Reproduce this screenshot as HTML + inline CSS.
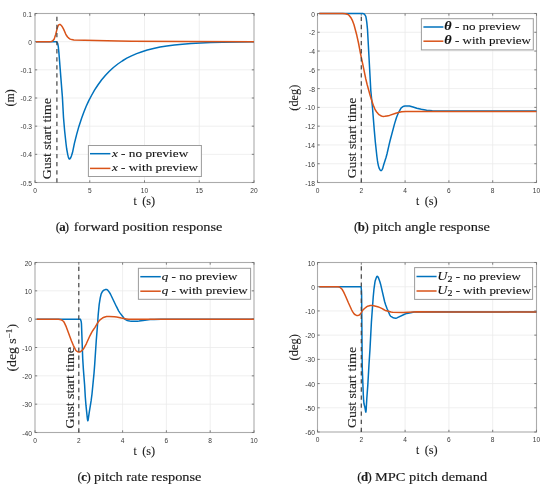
<!DOCTYPE html>
<html><head><meta charset="utf-8"><title>Gust response</title>
<style>html,body{margin:0;padding:0;background:#fff;}svg{display:block;}</style></head>
<body><svg width="550" height="489" viewBox="0 0 550 489">
<rect width="550" height="489" fill="#fff"/>
<path d="M89.75 13.5V182.5M144.5 13.5V182.5M199.25 13.5V182.5M35 41.67H254M35 69.83H254M35 98H254M35 126.17H254M35 154.33H254" stroke="#ebebeb" stroke-width="0.8" fill="none"/>
<rect x="35" y="13.5" width="219" height="169" fill="none" stroke="#ababab" stroke-width="1.1"/>
<path d="M35 182.5v-2.2M35 13.5v2.2M89.75 182.5v-2.2M89.75 13.5v2.2M144.5 182.5v-2.2M144.5 13.5v2.2M199.25 182.5v-2.2M199.25 13.5v2.2M254 182.5v-2.2M254 13.5v2.2M35 13.5h2.2M254 13.5h-2.2M35 41.67h2.2M254 41.67h-2.2M35 69.83h2.2M254 69.83h-2.2M35 98h2.2M254 98h-2.2M35 126.17h2.2M254 126.17h-2.2M35 154.33h2.2M254 154.33h-2.2M35 182.5h2.2M254 182.5h-2.2" stroke="#707070" stroke-width="0.9" fill="none"/>
<path d="M35.9,41.7 56.0,41.7 56.5,42.0 57.1,42.5 57.6,43.2 57.8,44.0 58.3,46.7 58.9,52.6 61.9,90.9 62.4,97.1 63.5,117.5 64.7,131.5 66.0,143.5 66.7,149.0 67.7,154.4 68.3,156.9 68.9,158.6 69.3,159.1 69.6,159.1 69.9,158.8 70.7,157.7 71.4,155.9 72.5,152.6 74.4,143.4 76.6,134.6 78.9,126.4 81.6,118.3 83.9,112.0 86.2,106.3 88.8,100.6 91.5,95.5 94.5,90.2 97.9,85.0 101.5,80.0 105.3,75.5 109.1,71.5 113.4,67.5 117.8,64.0 122.2,61.0 126.8,58.2 131.5,55.9 136.6,53.6 142.0,51.7 147.3,50.0 153.5,48.5 160.1,47.1 166.8,46.0 174.4,45.0 182.4,44.2 191.0,43.5 200.6,43.0 210.8,42.5 222.6,42.2 254.0,41.7" stroke="#0072bd" stroke-width="1.5" fill="none" stroke-linejoin="round"/>
<path d="M35.9,41.7 49.7,41.7 51.4,41.5 52.5,41.0 53.6,39.9 54.1,39.2 54.5,38.1 55.7,34.5 57.3,27.9 58.0,26.1 58.4,25.3 58.7,24.9 59.3,24.6 59.9,24.5 60.3,24.6 60.8,25.0 61.6,25.8 62.2,26.7 63.7,29.4 65.6,33.8 66.7,35.8 67.6,37.0 69.1,38.4 70.2,39.1 71.8,39.6 73.9,39.9 118.1,41.1 131.6,41.3 186.2,41.6 254.0,41.7" stroke="#d95319" stroke-width="1.5" fill="none" stroke-linejoin="round"/>
<path d="M56.9 182.5V13.5" stroke="#444" stroke-width="1.2" stroke-dasharray="4.3 3.77" fill="none"/>
<text x="35" y="192.8" font-family='"Liberation Sans", Arial, sans-serif' font-size="7" fill="#383838" text-anchor="middle" textLength="3.67" lengthAdjust="spacingAndGlyphs">0</text>
<text x="89.75" y="192.8" font-family='"Liberation Sans", Arial, sans-serif' font-size="7" fill="#383838" text-anchor="middle" textLength="3.67" lengthAdjust="spacingAndGlyphs">5</text>
<text x="144.5" y="192.8" font-family='"Liberation Sans", Arial, sans-serif' font-size="7" fill="#383838" text-anchor="middle" textLength="7.34" lengthAdjust="spacingAndGlyphs">10</text>
<text x="199.25" y="192.8" font-family='"Liberation Sans", Arial, sans-serif' font-size="7" fill="#383838" text-anchor="middle" textLength="7.34" lengthAdjust="spacingAndGlyphs">15</text>
<text x="254" y="192.8" font-family='"Liberation Sans", Arial, sans-serif' font-size="7" fill="#383838" text-anchor="middle" textLength="7.34" lengthAdjust="spacingAndGlyphs">20</text>
<text x="32" y="16.6" font-family='"Liberation Sans", Arial, sans-serif' font-size="7" fill="#383838" text-anchor="end" textLength="9.17" lengthAdjust="spacingAndGlyphs">0.1</text>
<text x="32" y="44.77" font-family='"Liberation Sans", Arial, sans-serif' font-size="7" fill="#383838" text-anchor="end" textLength="3.67" lengthAdjust="spacingAndGlyphs">0</text>
<text x="32" y="72.93" font-family='"Liberation Sans", Arial, sans-serif' font-size="7" fill="#383838" text-anchor="end" textLength="11.55" lengthAdjust="spacingAndGlyphs">-0.1</text>
<text x="32" y="101.1" font-family='"Liberation Sans", Arial, sans-serif' font-size="7" fill="#383838" text-anchor="end" textLength="11.55" lengthAdjust="spacingAndGlyphs">-0.2</text>
<text x="32" y="129.27" font-family='"Liberation Sans", Arial, sans-serif' font-size="7" fill="#383838" text-anchor="end" textLength="11.55" lengthAdjust="spacingAndGlyphs">-0.3</text>
<text x="32" y="157.43" font-family='"Liberation Sans", Arial, sans-serif' font-size="7" fill="#383838" text-anchor="end" textLength="11.55" lengthAdjust="spacingAndGlyphs">-0.4</text>
<text x="32" y="185.6" font-family='"Liberation Sans", Arial, sans-serif' font-size="7" fill="#383838" text-anchor="end" textLength="11.55" lengthAdjust="spacingAndGlyphs">-0.5</text>
<text x="133.5" y="204.9" font-family='"Liberation Serif", "DejaVu Serif", serif' font-size="11.5" fill="#222" stroke="#222" stroke-width="0.1">t <tspan x="142.2" textLength="13.0" lengthAdjust="spacingAndGlyphs">(s)</tspan></text>
<text transform="translate(13.8,97.9) rotate(-90)" font-family='"Liberation Serif", "DejaVu Serif", serif' font-size="12" fill="#222" stroke="#222" stroke-width="0.1" text-anchor="middle" textLength="17.2" lengthAdjust="spacingAndGlyphs">(m)</text>
<text transform="translate(50.8,179.3) rotate(-90)" font-family='"Liberation Serif", "DejaVu Serif", serif' font-size="13.4" fill="#222" stroke="#222" stroke-width="0.1" textLength="81.3" lengthAdjust="spacingAndGlyphs">Gust start time</text>
<rect x="88.4" y="145.5" width="113" height="31" fill="#fff" stroke="#9c9c9c" stroke-width="1.0"/>
<path d="M90 153.7H110.4" stroke="#0072bd" stroke-width="1.5"/>
<text x="111.9" y="156.7" font-family='"Liberation Serif", "DejaVu Serif", serif' font-size="11" fill="#111" stroke="#111" stroke-width="0.1" textLength="76.4" lengthAdjust="spacingAndGlyphs"><tspan font-style="italic">x</tspan> - no preview</text>
<path d="M90 168.4H110.4" stroke="#d95319" stroke-width="1.5"/>
<text x="111.9" y="171.4" font-family='"Liberation Serif", "DejaVu Serif", serif' font-size="11" fill="#111" stroke="#111" stroke-width="0.1" textLength="86.3" lengthAdjust="spacingAndGlyphs"><tspan font-style="italic">x</tspan> - with preview</text>
<text x="55.8" y="231" font-family='"Liberation Serif", "DejaVu Serif", serif' font-size="12.8" fill="#1a1a1a" stroke="#1a1a1a" stroke-width="0.15" textLength="13.2" lengthAdjust="spacing">(<tspan font-weight="bold">a</tspan>)</text>
<text x="73.7" y="231" font-family='"Liberation Serif", "DejaVu Serif", serif' font-size="12.8" fill="#1a1a1a" stroke="#1a1a1a" stroke-width="0.15" textLength="148.7" lengthAdjust="spacingAndGlyphs">forward position response</text>
<path d="M361.3 13.5V182.5M405.1 13.5V182.5M448.9 13.5V182.5M492.7 13.5V182.5M317.5 32.28H536.5M317.5 51.06H536.5M317.5 69.83H536.5M317.5 88.61H536.5M317.5 107.39H536.5M317.5 126.17H536.5M317.5 144.94H536.5M317.5 163.72H536.5" stroke="#ebebeb" stroke-width="0.8" fill="none"/>
<rect x="317.5" y="13.5" width="219" height="169" fill="none" stroke="#ababab" stroke-width="1.1"/>
<path d="M317.5 182.5v-2.2M317.5 13.5v2.2M361.3 182.5v-2.2M361.3 13.5v2.2M405.1 182.5v-2.2M405.1 13.5v2.2M448.9 182.5v-2.2M448.9 13.5v2.2M492.7 182.5v-2.2M492.7 13.5v2.2M536.5 182.5v-2.2M536.5 13.5v2.2M317.5 13.5h2.2M536.5 13.5h-2.2M317.5 32.28h2.2M536.5 32.28h-2.2M317.5 51.06h2.2M536.5 51.06h-2.2M317.5 69.83h2.2M536.5 69.83h-2.2M317.5 88.61h2.2M536.5 88.61h-2.2M317.5 107.39h2.2M536.5 107.39h-2.2M317.5 126.17h2.2M536.5 126.17h-2.2M317.5 144.94h2.2M536.5 144.94h-2.2M317.5 163.72h2.2M536.5 163.72h-2.2M317.5 182.5h2.2M536.5 182.5h-2.2" stroke="#707070" stroke-width="0.9" fill="none"/>
<path d="M319.3,13.5 362.7,13.5 363.6,13.7 364.3,14.2 365.0,15.0 365.8,16.4 366.2,18.4 366.8,22.4 367.5,29.5 370.0,75.8 370.8,90.6 372.4,106.7 374.3,130.4 375.3,141.7 376.9,156.5 377.5,160.9 377.9,163.3 378.5,166.1 379.1,168.1 380.1,170.0 380.6,170.5 380.8,170.6 381.3,170.6 381.7,170.2 382.3,169.3 382.7,168.4 383.7,164.7 386.1,157.3 387.1,153.5 389.0,145.2 390.1,140.5 394.6,123.6 396.5,117.5 398.4,112.8 400.6,108.8 401.1,108.0 401.6,107.6 402.9,106.7 403.9,106.2 404.9,106.0 408.4,106.0 409.5,106.1 413.0,107.0 416.8,108.3 421.3,109.3 426.6,110.3 432.3,110.7 451.7,110.9 536.5,110.9" stroke="#0072bd" stroke-width="1.5" fill="none" stroke-linejoin="round"/>
<path d="M319.3,13.5 342.7,13.5 345.3,13.7 347.2,14.2 348.2,14.6 348.7,14.9 349.8,16.2 351.3,18.3 352.6,20.9 354.0,24.8 356.8,35.3 358.5,43.0 360.6,54.1 362.6,63.3 365.8,79.0 367.2,84.7 370.1,95.2 371.4,99.6 373.3,105.2 374.8,108.8 375.8,110.8 377.1,112.6 378.4,114.1 379.4,114.9 381.4,116.0 382.3,116.3 383.2,116.4 384.8,116.3 386.9,115.9 389.5,115.4 395.8,113.2 399.4,112.2 401.6,111.8 405.8,111.5 411.6,111.4 536.5,111.4" stroke="#d95319" stroke-width="1.5" fill="none" stroke-linejoin="round"/>
<path d="M361.3 182.5V13.5" stroke="#444" stroke-width="1.2" stroke-dasharray="4.3 3.77" fill="none"/>
<text x="317.5" y="192.8" font-family='"Liberation Sans", Arial, sans-serif' font-size="7" fill="#383838" text-anchor="middle" textLength="3.67" lengthAdjust="spacingAndGlyphs">0</text>
<text x="361.3" y="192.8" font-family='"Liberation Sans", Arial, sans-serif' font-size="7" fill="#383838" text-anchor="middle" textLength="3.67" lengthAdjust="spacingAndGlyphs">2</text>
<text x="405.1" y="192.8" font-family='"Liberation Sans", Arial, sans-serif' font-size="7" fill="#383838" text-anchor="middle" textLength="3.67" lengthAdjust="spacingAndGlyphs">4</text>
<text x="448.9" y="192.8" font-family='"Liberation Sans", Arial, sans-serif' font-size="7" fill="#383838" text-anchor="middle" textLength="3.67" lengthAdjust="spacingAndGlyphs">6</text>
<text x="492.7" y="192.8" font-family='"Liberation Sans", Arial, sans-serif' font-size="7" fill="#383838" text-anchor="middle" textLength="3.67" lengthAdjust="spacingAndGlyphs">8</text>
<text x="536.5" y="192.8" font-family='"Liberation Sans", Arial, sans-serif' font-size="7" fill="#383838" text-anchor="middle" textLength="7.34" lengthAdjust="spacingAndGlyphs">10</text>
<text x="315" y="16.6" font-family='"Liberation Sans", Arial, sans-serif' font-size="7" fill="#383838" text-anchor="end" textLength="3.67" lengthAdjust="spacingAndGlyphs">0</text>
<text x="315" y="35.38" font-family='"Liberation Sans", Arial, sans-serif' font-size="7" fill="#383838" text-anchor="end" textLength="6.05" lengthAdjust="spacingAndGlyphs">-2</text>
<text x="315" y="54.16" font-family='"Liberation Sans", Arial, sans-serif' font-size="7" fill="#383838" text-anchor="end" textLength="6.05" lengthAdjust="spacingAndGlyphs">-4</text>
<text x="315" y="72.93" font-family='"Liberation Sans", Arial, sans-serif' font-size="7" fill="#383838" text-anchor="end" textLength="6.05" lengthAdjust="spacingAndGlyphs">-6</text>
<text x="315" y="91.71" font-family='"Liberation Sans", Arial, sans-serif' font-size="7" fill="#383838" text-anchor="end" textLength="6.05" lengthAdjust="spacingAndGlyphs">-8</text>
<text x="315" y="110.49" font-family='"Liberation Sans", Arial, sans-serif' font-size="7" fill="#383838" text-anchor="end" textLength="9.72" lengthAdjust="spacingAndGlyphs">-10</text>
<text x="315" y="129.27" font-family='"Liberation Sans", Arial, sans-serif' font-size="7" fill="#383838" text-anchor="end" textLength="9.72" lengthAdjust="spacingAndGlyphs">-12</text>
<text x="315" y="148.04" font-family='"Liberation Sans", Arial, sans-serif' font-size="7" fill="#383838" text-anchor="end" textLength="9.72" lengthAdjust="spacingAndGlyphs">-14</text>
<text x="315" y="166.82" font-family='"Liberation Sans", Arial, sans-serif' font-size="7" fill="#383838" text-anchor="end" textLength="9.72" lengthAdjust="spacingAndGlyphs">-16</text>
<text x="315" y="185.6" font-family='"Liberation Sans", Arial, sans-serif' font-size="7" fill="#383838" text-anchor="end" textLength="9.72" lengthAdjust="spacingAndGlyphs">-18</text>
<text x="416" y="204.9" font-family='"Liberation Serif", "DejaVu Serif", serif' font-size="11.5" fill="#222" stroke="#222" stroke-width="0.1">t <tspan x="424.7" textLength="13.0" lengthAdjust="spacingAndGlyphs">(s)</tspan></text>
<text transform="translate(298.4,97.7) rotate(-90)" font-family='"Liberation Serif", "DejaVu Serif", serif' font-size="12" fill="#222" stroke="#222" stroke-width="0.1" text-anchor="middle" textLength="26.0" lengthAdjust="spacingAndGlyphs">(deg)</text>
<text transform="translate(356.3,178.3) rotate(-90)" font-family='"Liberation Serif", "DejaVu Serif", serif' font-size="13.4" fill="#222" stroke="#222" stroke-width="0.1" textLength="80.6" lengthAdjust="spacingAndGlyphs">Gust start time</text>
<rect x="421.4" y="18.7" width="111.9" height="31.2" fill="#fff" stroke="#9c9c9c" stroke-width="1.0"/>
<path d="M423.4 27H443.4" stroke="#0072bd" stroke-width="1.5"/>
<text x="444.3" y="30" font-family='"Liberation Serif", "DejaVu Serif", serif' font-size="11" fill="#111" stroke="#111" stroke-width="0.1" textLength="76.3" lengthAdjust="spacingAndGlyphs"><tspan font-style="italic" font-weight="bold" font-size="12">θ</tspan> - no preview</text>
<path d="M423.4 41.2H443.4" stroke="#d95319" stroke-width="1.5"/>
<text x="444.3" y="44.2" font-family='"Liberation Serif", "DejaVu Serif", serif' font-size="11" fill="#111" stroke="#111" stroke-width="0.1" textLength="86.7" lengthAdjust="spacingAndGlyphs"><tspan font-style="italic" font-weight="bold" font-size="12">θ</tspan> - with preview</text>
<text x="354" y="231" font-family='"Liberation Serif", "DejaVu Serif", serif' font-size="12.8" fill="#1a1a1a" stroke="#1a1a1a" stroke-width="0.15" textLength="14.8" lengthAdjust="spacing">(<tspan font-weight="bold">b</tspan>)</text>
<text x="372.6" y="231" font-family='"Liberation Serif", "DejaVu Serif", serif' font-size="12.8" fill="#1a1a1a" stroke="#1a1a1a" stroke-width="0.15" textLength="117.3" lengthAdjust="spacingAndGlyphs">pitch angle response</text>
<path d="M78.8 262.5V432.5M122.6 262.5V432.5M166.4 262.5V432.5M210.2 262.5V432.5M35 290.83H254M35 319.17H254M35 347.5H254M35 375.83H254M35 404.17H254" stroke="#ebebeb" stroke-width="0.8" fill="none"/>
<rect x="35" y="262.5" width="219" height="170" fill="none" stroke="#ababab" stroke-width="1.1"/>
<path d="M35 432.5v-2.2M35 262.5v2.2M78.8 432.5v-2.2M78.8 262.5v2.2M122.6 432.5v-2.2M122.6 262.5v2.2M166.4 432.5v-2.2M166.4 262.5v2.2M210.2 432.5v-2.2M210.2 262.5v2.2M254 432.5v-2.2M254 262.5v2.2M35 262.5h2.2M254 262.5h-2.2M35 290.83h2.2M254 290.83h-2.2M35 319.17h2.2M254 319.17h-2.2M35 347.5h2.2M254 347.5h-2.2M35 375.83h2.2M254 375.83h-2.2M35 404.17h2.2M254 404.17h-2.2M35 432.5h2.2M254 432.5h-2.2" stroke="#707070" stroke-width="0.9" fill="none"/>
<path d="M36.8,319.2 80.2,319.2 80.4,319.2 80.5,319.4 81.1,321.2 81.4,323.1 81.5,324.9 82.7,358.2 83.4,369.6 84.6,384.9 85.3,397.0 86.0,405.7 87.2,417.2 87.5,419.6 87.8,420.7 87.9,420.6 88.1,420.2 88.3,418.8 89.2,412.7 91.1,400.9 92.0,394.0 93.1,382.6 94.0,373.4 94.7,364.4 96.3,340.0 97.3,327.8 98.2,314.6 99.2,304.4 100.2,298.2 100.8,295.5 101.2,293.9 101.7,292.9 102.4,291.6 103.1,290.8 103.7,290.3 105.3,289.6 106.5,289.4 107.2,289.7 107.9,290.4 109.7,292.8 110.4,294.0 116.5,306.7 118.6,310.8 120.1,313.1 122.7,316.5 124.0,318.3 124.6,318.9 125.6,319.6 126.6,320.2 128.3,320.8 129.8,321.1 131.2,321.3 137.3,321.2 139.1,321.0 143.1,320.4 150.1,319.6 154.1,319.4 160.8,319.2 254.0,319.2" stroke="#0072bd" stroke-width="1.5" fill="none" stroke-linejoin="round"/>
<path d="M36.8,319.2 58.5,319.2 59.8,319.4 60.8,319.7 61.8,320.2 63.0,321.0 63.6,321.5 64.3,322.6 66.3,326.9 71.4,340.8 73.3,345.3 75.2,349.2 75.7,350.2 76.3,350.8 77.9,351.8 78.6,352.0 79.2,352.1 79.7,352.0 80.2,351.8 81.5,350.9 82.7,349.8 83.9,348.2 86.3,343.8 89.9,335.8 91.7,332.3 92.7,330.7 95.0,327.4 97.5,323.1 98.6,321.5 100.4,319.6 102.5,318.0 104.1,317.2 106.6,316.5 107.8,316.4 109.2,316.4 114.4,316.7 116.6,317.1 121.4,318.1 126.5,318.9 128.6,319.2 133.1,319.3 144.4,319.2 254.0,319.2" stroke="#d95319" stroke-width="1.5" fill="none" stroke-linejoin="round"/>
<path d="M78.8 432.5V262.5" stroke="#444" stroke-width="1.2" stroke-dasharray="4.3 3.77" fill="none"/>
<text x="35" y="442.8" font-family='"Liberation Sans", Arial, sans-serif' font-size="7" fill="#383838" text-anchor="middle" textLength="3.67" lengthAdjust="spacingAndGlyphs">0</text>
<text x="78.8" y="442.8" font-family='"Liberation Sans", Arial, sans-serif' font-size="7" fill="#383838" text-anchor="middle" textLength="3.67" lengthAdjust="spacingAndGlyphs">2</text>
<text x="122.6" y="442.8" font-family='"Liberation Sans", Arial, sans-serif' font-size="7" fill="#383838" text-anchor="middle" textLength="3.67" lengthAdjust="spacingAndGlyphs">4</text>
<text x="166.4" y="442.8" font-family='"Liberation Sans", Arial, sans-serif' font-size="7" fill="#383838" text-anchor="middle" textLength="3.67" lengthAdjust="spacingAndGlyphs">6</text>
<text x="210.2" y="442.8" font-family='"Liberation Sans", Arial, sans-serif' font-size="7" fill="#383838" text-anchor="middle" textLength="3.67" lengthAdjust="spacingAndGlyphs">8</text>
<text x="254" y="442.8" font-family='"Liberation Sans", Arial, sans-serif' font-size="7" fill="#383838" text-anchor="middle" textLength="7.34" lengthAdjust="spacingAndGlyphs">10</text>
<text x="32" y="265.6" font-family='"Liberation Sans", Arial, sans-serif' font-size="7" fill="#383838" text-anchor="end" textLength="7.34" lengthAdjust="spacingAndGlyphs">20</text>
<text x="32" y="293.93" font-family='"Liberation Sans", Arial, sans-serif' font-size="7" fill="#383838" text-anchor="end" textLength="7.34" lengthAdjust="spacingAndGlyphs">10</text>
<text x="32" y="322.27" font-family='"Liberation Sans", Arial, sans-serif' font-size="7" fill="#383838" text-anchor="end" textLength="3.67" lengthAdjust="spacingAndGlyphs">0</text>
<text x="32" y="350.6" font-family='"Liberation Sans", Arial, sans-serif' font-size="7" fill="#383838" text-anchor="end" textLength="9.72" lengthAdjust="spacingAndGlyphs">-10</text>
<text x="32" y="378.93" font-family='"Liberation Sans", Arial, sans-serif' font-size="7" fill="#383838" text-anchor="end" textLength="9.72" lengthAdjust="spacingAndGlyphs">-20</text>
<text x="32" y="407.27" font-family='"Liberation Sans", Arial, sans-serif' font-size="7" fill="#383838" text-anchor="end" textLength="9.72" lengthAdjust="spacingAndGlyphs">-30</text>
<text x="32" y="435.6" font-family='"Liberation Sans", Arial, sans-serif' font-size="7" fill="#383838" text-anchor="end" textLength="9.72" lengthAdjust="spacingAndGlyphs">-40</text>
<text x="133.5" y="454.9" font-family='"Liberation Serif", "DejaVu Serif", serif' font-size="11.5" fill="#222" stroke="#222" stroke-width="0.1">t <tspan x="142.2" textLength="13.0" lengthAdjust="spacingAndGlyphs">(s)</tspan></text>
<text transform="translate(16.2,347.7) rotate(-90)" font-family='"Liberation Serif", "DejaVu Serif", serif' font-size="11.8" fill="#222" stroke="#222" stroke-width="0.1" text-anchor="middle" textLength="47.6" lengthAdjust="spacingAndGlyphs">(deg s<tspan font-size="8" dy="-3.8">−1</tspan><tspan dy="3.8">)</tspan></text>
<text transform="translate(73.9,428.5) rotate(-90)" font-family='"Liberation Serif", "DejaVu Serif", serif' font-size="13.4" fill="#222" stroke="#222" stroke-width="0.1" textLength="81.4" lengthAdjust="spacingAndGlyphs">Gust start time</text>
<rect x="138.4" y="268.3" width="112.2" height="31" fill="#fff" stroke="#9c9c9c" stroke-width="1.0"/>
<path d="M140.3 276.7H160.8" stroke="#0072bd" stroke-width="1.5"/>
<text x="161.8" y="279.7" font-family='"Liberation Serif", "DejaVu Serif", serif' font-size="11" fill="#111" stroke="#111" stroke-width="0.1" textLength="75.6" lengthAdjust="spacingAndGlyphs"><tspan font-style="italic">q</tspan> - no preview</text>
<path d="M140.3 291.2H160.8" stroke="#d95319" stroke-width="1.5"/>
<text x="161.8" y="294.2" font-family='"Liberation Serif", "DejaVu Serif", serif' font-size="11" fill="#111" stroke="#111" stroke-width="0.1" textLength="85.9" lengthAdjust="spacingAndGlyphs"><tspan font-style="italic">q</tspan> - with preview</text>
<text x="77.6" y="480.6" font-family='"Liberation Serif", "DejaVu Serif", serif' font-size="12.8" fill="#1a1a1a" stroke="#1a1a1a" stroke-width="0.15" textLength="13.2" lengthAdjust="spacing">(<tspan font-weight="bold">c</tspan>)</text>
<text x="94.1" y="480.6" font-family='"Liberation Serif", "DejaVu Serif", serif' font-size="12.8" fill="#1a1a1a" stroke="#1a1a1a" stroke-width="0.15" textLength="107.3" lengthAdjust="spacingAndGlyphs">pitch rate response</text>
<path d="M361.3 262.5V432M405.1 262.5V432M448.9 262.5V432M492.7 262.5V432M317.5 286.71H536.5M317.5 310.93H536.5M317.5 335.14H536.5M317.5 359.36H536.5M317.5 383.57H536.5M317.5 407.79H536.5" stroke="#ebebeb" stroke-width="0.8" fill="none"/>
<rect x="317.5" y="262.5" width="219" height="169.5" fill="none" stroke="#ababab" stroke-width="1.1"/>
<path d="M317.5 432v-2.2M317.5 262.5v2.2M361.3 432v-2.2M361.3 262.5v2.2M405.1 432v-2.2M405.1 262.5v2.2M448.9 432v-2.2M448.9 262.5v2.2M492.7 432v-2.2M492.7 262.5v2.2M536.5 432v-2.2M536.5 262.5v2.2M317.5 262.5h2.2M536.5 262.5h-2.2M317.5 286.71h2.2M536.5 286.71h-2.2M317.5 310.93h2.2M536.5 310.93h-2.2M317.5 335.14h2.2M536.5 335.14h-2.2M317.5 359.36h2.2M536.5 359.36h-2.2M317.5 383.57h2.2M536.5 383.57h-2.2M317.5 407.79h2.2M536.5 407.79h-2.2M317.5 432h2.2M536.5 432h-2.2" stroke="#707070" stroke-width="0.9" fill="none"/>
<path d="M319.3,286.7 361.0,286.7 361.1,286.8 361.4,289.8 361.6,294.1 362.2,363.3 362.3,369.4 363.3,394.8 363.6,400.2 364.0,403.8 365.0,407.8 365.6,411.5 365.8,412.0 365.9,412.2 366.2,409.3 366.8,398.5 367.8,385.1 369.0,364.2 370.0,348.9 371.4,322.2 373.2,297.3 374.0,288.8 374.9,282.4 375.3,280.4 376.1,278.2 376.6,276.9 377.1,276.4 377.2,276.3 377.5,276.4 378.1,277.1 378.7,278.4 379.8,281.5 380.6,284.2 384.6,301.5 385.6,304.8 386.9,308.2 389.5,314.3 390.4,315.9 390.8,316.4 392.2,317.2 393.3,317.8 394.3,318.1 395.6,318.2 396.9,317.9 404.6,314.2 406.8,313.4 411.9,312.4 414.0,312.1 415.9,312.0 425.2,311.8 536.5,311.9" stroke="#0072bd" stroke-width="1.5" fill="none" stroke-linejoin="round"/>
<path d="M319.3,286.7 338.2,286.7 339.3,287.0 340.7,288.0 341.4,288.6 342.2,289.5 343.0,290.8 343.7,292.1 345.6,296.2 348.4,302.8 351.7,310.0 352.6,311.6 353.9,313.6 354.8,314.5 356.1,315.2 357.2,315.6 357.8,315.6 358.5,315.4 359.3,315.0 360.3,314.2 360.8,313.5 362.2,311.0 362.7,310.3 364.5,308.5 366.9,306.6 367.7,306.2 368.7,305.9 370.1,305.6 371.4,305.5 372.6,305.6 373.7,305.7 377.7,306.7 379.5,307.4 382.2,308.6 384.5,310.0 385.3,310.4 388.4,311.2 391.1,312.0 392.6,312.3 403.2,312.4 413.0,311.9 416.4,311.8 447.4,311.9 536.5,311.9" stroke="#d95319" stroke-width="1.5" fill="none" stroke-linejoin="round"/>
<path d="M361.3 432V262.5" stroke="#444" stroke-width="1.2" stroke-dasharray="4.3 3.77" fill="none"/>
<text x="317.5" y="442.3" font-family='"Liberation Sans", Arial, sans-serif' font-size="7" fill="#383838" text-anchor="middle" textLength="3.67" lengthAdjust="spacingAndGlyphs">0</text>
<text x="361.3" y="442.3" font-family='"Liberation Sans", Arial, sans-serif' font-size="7" fill="#383838" text-anchor="middle" textLength="3.67" lengthAdjust="spacingAndGlyphs">2</text>
<text x="405.1" y="442.3" font-family='"Liberation Sans", Arial, sans-serif' font-size="7" fill="#383838" text-anchor="middle" textLength="3.67" lengthAdjust="spacingAndGlyphs">4</text>
<text x="448.9" y="442.3" font-family='"Liberation Sans", Arial, sans-serif' font-size="7" fill="#383838" text-anchor="middle" textLength="3.67" lengthAdjust="spacingAndGlyphs">6</text>
<text x="492.7" y="442.3" font-family='"Liberation Sans", Arial, sans-serif' font-size="7" fill="#383838" text-anchor="middle" textLength="3.67" lengthAdjust="spacingAndGlyphs">8</text>
<text x="536.5" y="442.3" font-family='"Liberation Sans", Arial, sans-serif' font-size="7" fill="#383838" text-anchor="middle" textLength="7.34" lengthAdjust="spacingAndGlyphs">10</text>
<text x="315" y="265.6" font-family='"Liberation Sans", Arial, sans-serif' font-size="7" fill="#383838" text-anchor="end" textLength="7.34" lengthAdjust="spacingAndGlyphs">10</text>
<text x="315" y="289.81" font-family='"Liberation Sans", Arial, sans-serif' font-size="7" fill="#383838" text-anchor="end" textLength="3.67" lengthAdjust="spacingAndGlyphs">0</text>
<text x="315" y="314.03" font-family='"Liberation Sans", Arial, sans-serif' font-size="7" fill="#383838" text-anchor="end" textLength="9.72" lengthAdjust="spacingAndGlyphs">-10</text>
<text x="315" y="338.24" font-family='"Liberation Sans", Arial, sans-serif' font-size="7" fill="#383838" text-anchor="end" textLength="9.72" lengthAdjust="spacingAndGlyphs">-20</text>
<text x="315" y="362.46" font-family='"Liberation Sans", Arial, sans-serif' font-size="7" fill="#383838" text-anchor="end" textLength="9.72" lengthAdjust="spacingAndGlyphs">-30</text>
<text x="315" y="386.67" font-family='"Liberation Sans", Arial, sans-serif' font-size="7" fill="#383838" text-anchor="end" textLength="9.72" lengthAdjust="spacingAndGlyphs">-40</text>
<text x="315" y="410.89" font-family='"Liberation Sans", Arial, sans-serif' font-size="7" fill="#383838" text-anchor="end" textLength="9.72" lengthAdjust="spacingAndGlyphs">-50</text>
<text x="315" y="435.1" font-family='"Liberation Sans", Arial, sans-serif' font-size="7" fill="#383838" text-anchor="end" textLength="9.72" lengthAdjust="spacingAndGlyphs">-60</text>
<text x="416" y="454.4" font-family='"Liberation Serif", "DejaVu Serif", serif' font-size="11.5" fill="#222" stroke="#222" stroke-width="0.1">t <tspan x="424.7" textLength="13.0" lengthAdjust="spacingAndGlyphs">(s)</tspan></text>
<text transform="translate(298.4,347.3) rotate(-90)" font-family='"Liberation Serif", "DejaVu Serif", serif' font-size="12" fill="#222" stroke="#222" stroke-width="0.1" text-anchor="middle" textLength="26.2" lengthAdjust="spacingAndGlyphs">(deg)</text>
<text transform="translate(356.3,427.9) rotate(-90)" font-family='"Liberation Serif", "DejaVu Serif", serif' font-size="13.4" fill="#222" stroke="#222" stroke-width="0.1" textLength="80.9" lengthAdjust="spacingAndGlyphs">Gust start time</text>
<rect x="414.6" y="267.6" width="118" height="31.8" fill="#fff" stroke="#9c9c9c" stroke-width="1.0"/>
<path d="M416.5 276.5H436.6" stroke="#0072bd" stroke-width="1.5"/>
<text x="437.3" y="279.5" font-family='"Liberation Serif", "DejaVu Serif", serif' font-size="11" fill="#111" stroke="#111" stroke-width="0.1" textLength="83.5" lengthAdjust="spacingAndGlyphs"><tspan font-style="italic" font-size="12">U</tspan><tspan font-size="8.5" dy="2.2">2</tspan><tspan dy="-2.2"> - no preview</tspan></text>
<path d="M416.5 291H436.6" stroke="#d95319" stroke-width="1.5"/>
<text x="437.3" y="294" font-family='"Liberation Serif", "DejaVu Serif", serif' font-size="11" fill="#111" stroke="#111" stroke-width="0.1" textLength="93.7" lengthAdjust="spacingAndGlyphs"><tspan font-style="italic" font-size="12">U</tspan><tspan font-size="8.5" dy="2.2">2</tspan><tspan dy="-2.2"> - with preview</tspan></text>
<text x="357.2" y="480.6" font-family='"Liberation Serif", "DejaVu Serif", serif' font-size="12.8" fill="#1a1a1a" stroke="#1a1a1a" stroke-width="0.15" textLength="14.5" lengthAdjust="spacing">(<tspan font-weight="bold">d</tspan>)</text>
<text x="375" y="480.6" font-family='"Liberation Serif", "DejaVu Serif", serif' font-size="12.8" fill="#1a1a1a" stroke="#1a1a1a" stroke-width="0.15" textLength="112.1" lengthAdjust="spacingAndGlyphs">MPC pitch demand</text>
</svg></body></html>
